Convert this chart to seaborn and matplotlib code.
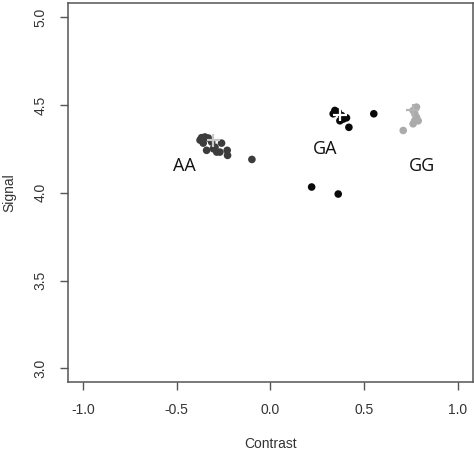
import matplotlib
matplotlib.use("Agg")
import matplotlib.pyplot as plt
import seaborn as sns
import pandas as pd

# ---- data ----
aa_contrast = [-0.367, -0.349, -0.331, -0.375, -0.358, -0.340, -0.304, -0.286,
               -0.269, -0.260, -0.230, -0.228, -0.313, -0.295, -0.098]
aa_signal = [4.314, 4.318, 4.312, 4.300, 4.283, 4.242, 4.251, 4.232,
             4.232, 4.283, 4.242, 4.213, 4.289, 4.260, 4.190]
ga_contrast = [0.345, 0.336, 0.363, 0.381, 0.390, 0.407, 0.372, 0.420, 0.553, 0.221, 0.363]
ga_signal = [4.469, 4.450, 4.460, 4.440, 4.420, 4.427, 4.410, 4.373, 4.450, 4.033, 3.993]
gg_contrast = [0.710, 0.763, 0.772, 0.781, 0.772, 0.763, 0.781, 0.790]
gg_signal = [4.355, 4.393, 4.412, 4.430, 4.450, 4.469, 4.488, 4.410]

groups = ["AA", "GA", "GG"]
center_contrast = [-0.304, 0.372, 0.760]
center_signal = [4.300, 4.445, 4.470]
label_contrast = [-0.459, 0.295, 0.813]
label_signal = [4.153, 4.251, 4.153]

x_ticks = [-1.0, -0.5, 0.0, 0.5, 1.0]
y_ticks = [3.0, 3.5, 4.0, 4.5, 5.0]

point_colors = {"AA": "#3c3c3c", "GA": "#0a0a0a", "GG": "#ababab"}
center_colors = {"AA": "#c8c8c8", "GA": "#ffffff", "GG": "#b4b4b4"}

df = pd.DataFrame({
    "Contrast": aa_contrast + ga_contrast + gg_contrast,
    "Signal": aa_signal + ga_signal + gg_signal,
    "group": ["AA"] * len(aa_contrast) + ["GA"] * len(ga_contrast) + ["GG"] * len(gg_contrast),
})
centers = pd.DataFrame({"Contrast": center_contrast, "Signal": center_signal, "group": groups})

sns.set_style("ticks")
plt.rcParams["font.family"] = ["Liberation Sans", "DejaVu Sans"]

fig = plt.figure(figsize=(4.74, 4.51), dpi=100)
ax = fig.add_axes([0.1435, 0.152, 0.8545, 0.841])

sns.scatterplot(data=df, x="Contrast", y="Signal", hue="group", palette=point_colors,
                s=30, edgecolor="none", legend=False, ax=ax)
sns.scatterplot(data=centers, x="Contrast", y="Signal", hue="group", palette=center_colors,
                marker="+", s=90, linewidth=1.6, legend=False, ax=ax)

for g, lx, ly in zip(groups, label_contrast, label_signal):
    ax.text(lx, ly, g, ha="center", va="center", fontsize=13, color="#111111",
            family=["Open Sans", "DejaVu Sans"])

ax.set_xlim(-1.08, 1.083)
ax.set_ylim(2.92, 5.08)
ax.set_xticks(x_ticks)
ax.set_yticks(y_ticks)
ax.set_xticklabels([f"{v:.1f}" for v in x_ticks])
ax.set_yticklabels([f"{v:.1f}" for v in y_ticks])

for sp in ax.spines.values():
    sp.set_visible(True)
    sp.set_color("#555555")
    sp.set_linewidth(1.1)

ax.tick_params(axis="both", direction="out", length=6, width=1.0, color="#555555",
               labelsize=10, labelcolor="#333333", pad=9)
ax.tick_params(axis="y", labelrotation=90)
for lab in ax.get_yticklabels():
    lab.set_va("center")

ax.set_xlabel("Contrast", fontsize=10, color="#333333", labelpad=14)
ax.set_ylabel("Signal", fontsize=10, color="#333333", labelpad=12)

fig.savefig("out.png", dpi=100)
